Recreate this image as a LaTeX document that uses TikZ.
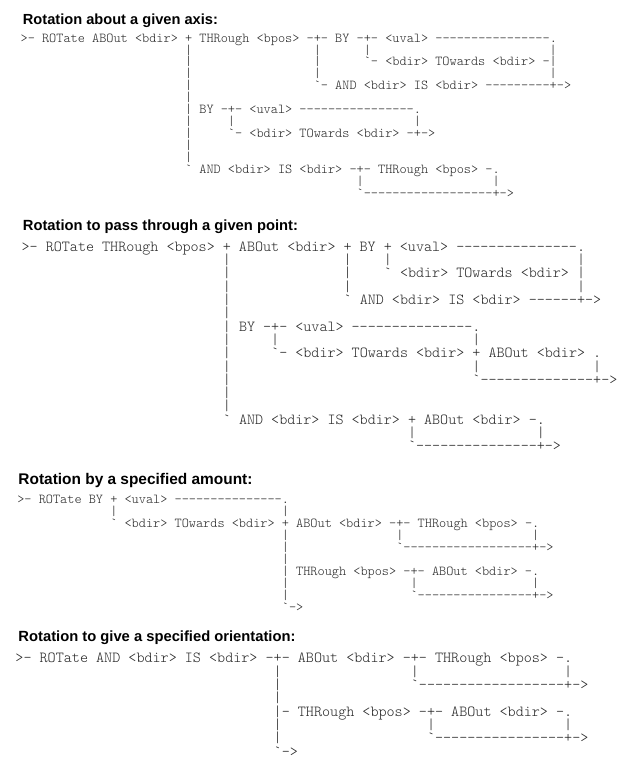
\documentclass[tikz,border=0pt]{standalone}
\usepackage{fontspec}
\setmainfont{Liberation Sans}
\setsansfont{Liberation Sans}
\setmonofont{lmmonolt10-regular}[Extension=.otf]
\usepackage{graphicx}
\newcounter{nn}
\newcommand\secp[5]{\def\Xo{#1}\def\Cw{#2}\def\Yo{#3}\def\Rs{#4}\def\Fs{#5}}
\newcommand\mline[3]{\stepcounter{nn}\node[mono,font=\fontsize{\Fs pt}{\Fs pt}\selectfont\ttfamily] (n\arabic{nn}) at ({(\Xo+(#1-0.5)*\Cw)*1pt},{-(\Yo+#2*\Rs+0.3*\Fs)*1pt}) {#3};}
\newcommand\heading[4]{\stepcounter{nn}\node[head] (h\arabic{nn}) at (#1pt,{-(#2+5.2)*1pt}) {\resizebox{#3pt}{!}{#4}};}
\tikzset{
  mono/.style={anchor=base west,inner sep=0pt,text=black!85},
  head/.style={anchor=base west,inner sep=0pt,font=\fontsize{15pt}{15pt}\selectfont\sffamily\bfseries,text=black}
}
\begin{document}
\begin{tikzpicture}
\useasboundingbox[fill=white] (0,0) rectangle (628pt,-768pt);
% ---------- Section 1
\heading{22.7}{19.5}{195}{Rotation about a given axis:}
\secp{24}{7.15}{38}{11.95}{13.62}
\mline{0}{0}{>- ROTate ABOut <bdir> + THRough <bpos> -+- BY -+- <uval> ----------------.}
\mline{23}{1}{|}\mline{41}{1}{|}\mline{48}{1}{|}\mline{74}{1}{|}
\mline{23}{2}{|}\mline{41}{2}{|}\mline{48}{2}{`- <bdir> TOwards <bdir> -|}
\mline{23}{3}{|}\mline{41}{3}{|}\mline{74}{3}{|}
\mline{23}{4}{|}\mline{41}{4}{`- AND <bdir> IS <bdir> ---------+->}
\mline{23}{5}{|}
\mline{23}{6}{| BY -+- <uval> ----------------.}
\mline{23}{7}{|}\mline{29}{7}{|}\mline{55}{7}{|}
\mline{23}{8}{|}\mline{29}{8}{`- <bdir> TOwards <bdir> -+->}
\mline{23}{9}{|}
\mline{23}{10}{|}
\mline{23}{11}{` AND <bdir> IS <bdir> -+- THRough <bpos> -.}
\mline{47}{12}{|}\mline{66}{12}{|}
\mline{47}{13}{`------------------+->}
% ---------- Section 2
\heading{22.7}{225}{275}{Rotation to pass through a given point:}
\secp{25.5}{8.05}{246.7}{13.3}{15.33}
\mline{0}{0}{>- ROTate THRough <bpos> + ABOut <bdir> + BY + <uval> ---------------.}
\mline{25}{1}{|}\mline{40}{1}{|}\mline{45}{1}{|}\mline{69}{1}{|}
\mline{25}{2}{|}\mline{40}{2}{|}\mline{45}{2}{` <bdir> TOwards <bdir> |}
\mline{25}{3}{|}\mline{40}{3}{|}\mline{69}{3}{|}
\mline{25}{4}{|}\mline{40}{4}{` AND <bdir> IS <bdir> ------+->}
\mline{25}{5}{|}
\mline{25}{6}{| BY -+- <uval> ---------------.}
\mline{25}{7}{|}\mline{31}{7}{|}\mline{56}{7}{|}
\mline{25}{8}{|}\mline{31}{8}{`- <bdir> TOwards <bdir> + ABOut <bdir> .}
\mline{25}{9}{|}\mline{56}{9}{|}\mline{71}{9}{|}
\mline{25}{10}{|}\mline{56}{10}{`--------------+->}
\mline{25}{11}{|}
\mline{25}{12}{|}
\mline{25}{13}{` AND <bdir> IS <bdir> + ABOut <bdir> -.}
\mline{48}{14}{|}\mline{64}{14}{|}
\mline{48}{15}{`---------------+->}
% ---------- Section 3
\heading{18.3}{479.3}{234}{Rotation by a specified amount:}
\secp{20.7}{7.15}{499.3}{12.0}{13.62}
\mline{0}{0}{>- ROTate BY + <uval> ---------------.}
\mline{13}{1}{|}\mline{37}{1}{|}
\mline{13}{2}{` <bdir> TOwards <bdir> + ABOut <bdir> -+- THRough <bpos> -.}
\mline{37}{3}{|}\mline{53}{3}{|}\mline{72}{3}{|}
\mline{37}{4}{|}\mline{53}{4}{`------------------+->}
\mline{37}{5}{|}
\mline{37}{6}{| THRough <bpos> -+- ABOut <bdir> -.}
\mline{37}{7}{|}\mline{55}{7}{|}\mline{72}{7}{|}
\mline{37}{8}{|}\mline{55}{8}{`----------------+->}
\mline{37}{9}{`->}
% ---------- Section 4
\heading{18.3}{636.7}{277}{Rotation to give a specified orientation:}
\secp{19.3}{8.07}{658.3}{13.33}{15.37}
\mline{0}{0}{>- ROTate AND <bdir> IS <bdir> -+- ABOut <bdir> -+- THRough <bpos> -.}
\mline{32}{1}{|}\mline{49}{1}{|}\mline{68}{1}{|}
\mline{32}{2}{|}\mline{49}{2}{`------------------+->}
\mline{32}{3}{|}
\mline{32}{4}{|- THRough <bpos> -+- ABOut <bdir> -.}
\mline{32}{5}{|}\mline{51}{5}{|}\mline{68}{5}{|}
\mline{32}{6}{|}\mline{51}{6}{`----------------+->}
\mline{32}{7}{`->}
\end{tikzpicture}
\end{document}
